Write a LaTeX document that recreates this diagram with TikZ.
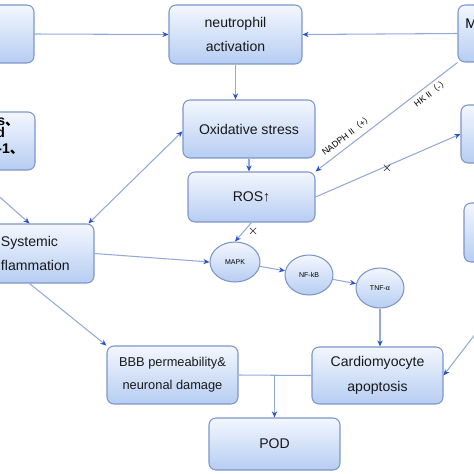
\documentclass[tikz,border=0pt]{standalone}
\usepackage{fontspec}
\setmainfont{Liberation Sans}
\newfontfamily\cjk{Noto Sans CJK SC}
\usepackage{tikz}
\usetikzlibrary{arrows, arrows.meta, shapes.geometric}
\definecolor{boxline}{HTML}{7D95C9}
\definecolor{boxtop}{HTML}{F3F7FE}
\definecolor{boxbot}{HTML}{B6CDF2}
\definecolor{linkline}{HTML}{93AAD8}
\definecolor{tipblue}{HTML}{2E52C6}
\tikzset{
  box/.style={rectangle, rounded corners=4pt, draw=boxline, line width=0.6pt,
    top color=boxtop, bottom color=boxbot, align=center, text=black!90,
    font=\fontsize{8}{14}\selectfont},
  oval/.style={ellipse, draw=boxline, line width=0.6pt, top color=boxtop,
    bottom color=boxbot, inner sep=1pt, font=\fontsize{4}{5}\selectfont},
  link/.style={draw=linkline, line width=0.6pt},
  arr/.style={link, -{Stealth[length=3.5pt, width=3pt, color=tipblue]}},
  arrtwo/.style={link, {Stealth[length=3.5pt, width=3pt, color=tipblue]}-{Stealth[length=3.5pt, width=3pt, color=tipblue]}},
  lbl/.style={inner sep=0pt, font=\fontsize{5}{6}\selectfont},
  crossmark/.style={inner sep=0pt, font=\fontsize{7}{8}\selectfont},
}

\begin{document}
\begin{tikzpicture}[x=0.02cm, y=-0.02cm]
\useasboundingbox (0,0) rectangle (474,474);
\clip (0,0) rectangle (474,474);

\begin{scope}[every node/.style={box}]
\node (tl) at (-31,34) [minimum width=2.6cm, minimum height=1.16cm] {};
\node (neut) at (235.5,34.5) [minimum width=2.66cm, minimum height=1.18cm] {neutrophil\\activation};
\node (mbox) at (524,33.5) [minimum width=2.64cm, minimum height=1.14cm] {};
\node (ox) at (249,129) [minimum width=2.64cm, minimum height=1.16cm] {Oxidative stress};
\node (lbox) at (-30,141) [minimum width=2.6cm, minimum height=1.16cm] {};
\node (rtwo) at (527,134) [minimum width=2.64cm, minimum height=1.16cm] {};
\node (ros) at (251.5,197) [minimum width=2.54cm, minimum height=1.0cm] {ROS↑};
\node (rthree) at (530,232.5) [minimum width=2.64cm, minimum height=1.18cm] {};
\node (sys) at (29.5,253.5) [minimum width=2.58cm, minimum height=1.18cm] {Systemic\\Inflammation};
\node (bbb) at (172.5,375) [minimum width=2.62cm, minimum height=1.16cm, font=\fontsize{7.3}{13}\selectfont] {BBB permeability\&\\neuronal damage};
\node (card) at (377.5,375.5) [minimum width=2.62cm, minimum height=1.14cm] {Cardiomyocyte\\apoptosis};
\node (pod) at (274.5,444) [minimum width=2.62cm, minimum height=1.04cm] {POD};
\end{scope}

\begin{scope}[every node/.style={oval, minimum height=0.8cm}]
\node (mapk) at (235,262) [minimum width=1.0cm] {MAPK};
\node (nfkb) at (309,275) [minimum width=0.96cm] {NF-kB};
\node (tnf) at (380,288) [minimum width=0.96cm] {TNF-α};
\end{scope}

% texts of the cut boxes
\node[anchor=base west, inner sep=0pt, font=\fontsize{8}{9}\selectfont] (mtxt) at (465,28) {M};
\begin{scope}[every node/.style={anchor=base west, inner sep=0pt, font=\bfseries\fontsize{8}{9}\selectfont}]
\node (ltxta) at (-3,125) {s\cjk{、}};
\node (ltxtb) at (-4,137) {d};
\node (ltxtc) at (-3,153) {-1\cjk{、}};
\end{scope}

\draw[arr] (tl.east) -- (neut.west);
\draw[arr] (mbox.west) -- (neut.east);
\draw[arr] (neut.south) -- (neut.south |- ox.north);
\draw[arr] (ox.south) -- (ox.south |- ros.north);
\draw[arrtwo] (sys.27) -- (ox.182);
\draw[arr] (lbox.south) -- (sys.north);
\draw[arr] (sys.east) -- (mapk.west);
\draw[arr] (sys.south) -- (bbb.north west);
\draw[arr] (ros.south) -- (mapk.north);
\draw[arr] (mbox.south west) -- (ros.north east);
\draw[arr] (ros.east) -- (rtwo.west);
\draw[arr] (mapk) -- (nfkb);
\draw[arr] (nfkb) -- (tnf);
\draw[arr] (tnf.south) -- (tnf.south |- card.north);
\draw[arr] (rthree.south) -- (card.east);
\draw[link] (bbb.east) -- (card.west);
\draw[arr] (pod.north |- bbb.east) -- (pod.north);

\node[lbl, rotate=37] (nadph) at (347,135) {NADPH II\cjk{（+）}};
\node[lbl, rotate=37] (hk) at (431,93) {HK II\cjk{（-）}};
\node[crossmark] (xa) at (253,231) {$\times$};
\node[crossmark] (xb) at (387,168) {$\times$};

\end{tikzpicture}
\end{document}
